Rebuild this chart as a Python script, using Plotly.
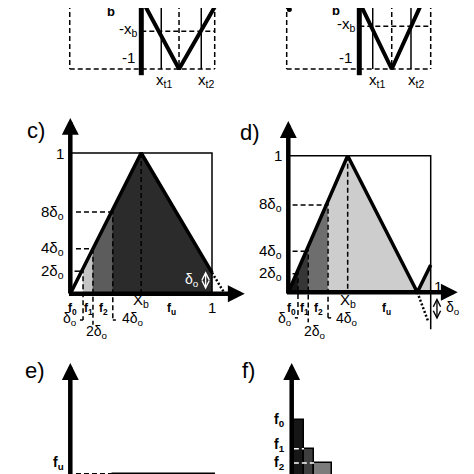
"""
Schematic of the triangle map and its stored-energy bands, panels a) to f)
"""

import plotly.graph_objects as go

W = H = 474

# ---- a) and b): V shaped maps, only the lower part is visible
a_v_x = [0.06, 0.514, 1.0]
a_v_y = [0.0, -1.0, 0.0]
a_xt = [0.272, 0.817]
a_xmid = 0.514
a_xb = -0.392
a_left = -0.975

b_v_x = [0.034, 0.454, 0.85]
b_v_y = [0.0, -1.0, 0.0]
b_xt = [0.188, 0.724]
b_xmid = 0.454
b_xb = -0.31
b_left = -1.017

# ---- c): triangle with x_b = 0.5, overshooting 1 by delta_o
c_tri_x = [0, 0.5, 1.0]
c_tri_y = [0, 1, 0.15]
c_tail_x = [1.0, 1.09]
c_tail_y = [0.15, 0]
c_band_x = [0.09, 0.16, 0.30]        # delta_o, 2 delta_o, 4 delta_o
c_band_h = [0.18, 0.32, 0.60]
c_colors = ['#c4c4c4', '#5c5c5c', '#2b2b2b']
c_tick_y = [1, 0.58, 0.32, 0.16]
c_tick_lab = ['1', '8δ<sub>o</sub>', '4δ<sub>o</sub>', '2δ<sub>o</sub>']

# ---- d): triangle with x_b < 0.5, folded back at 1
d_tri_x = [0, 0.417, 0.906, 1.0]
d_tri_y = [0, 1, 0, 0.20]
d_tail_x = [0.906, 0.981]
d_tail_y = [0, -0.21]
d_band_x = [0.068, 0.14, 0.279]
d_band_h = [0.163, 0.336, 0.67]
d_colors = ['#141414', '#363636', '#6e6e6e', '#cdcdcd']
d_tick_y = [1, 0.64, 0.30, 0.136]
d_tick_lab = ['1', '8δ<sub>o</sub>', '4δ<sub>o</sub>', '2δ<sub>o</sub>']

f_under = ['f<sub>0</sub>', 'f<sub>1</sub>', 'f<sub>2</sub>', 'f<sub>u</sub>']

# ---- e) and f): resulting probabilities
e_edges = [0.30, 1.02]
e_heights = [0.159]
e_colors = ['#2a2a2a']

f_edges = [0, 0.087, 0.158, 0.287, 1.007]
f_heights = [0.545, 0.338, 0.236, 0.129]
f_colors = ['#161616', '#3e3e3e', '#7c7c7c', '#c2c2c2']
f_lab_y = [0.545, 0.366, 0.236, 0.105]

FONT = 'Liberation Sans, Arial, sans-serif'
DASH = '5px,3px'

fig = go.Figure()
layout = {}


def add_axes(n, x0, sx, y0, sy, box):
    """pixel origin / scale of one panel, box = (left, top, right, bottom) in px"""
    l, t, r, b = box
    s = '' if n == 1 else str(n)
    layout['xaxis' + s] = dict(domain=[l / W, r / W], range=[(l - x0) / sx, (r - x0) / sx],
                               visible=False, anchor='y' + s)
    layout['yaxis' + s] = dict(domain=[1 - b / H, 1 - t / H], range=[(y0 - b) / sy, (y0 - t) / sy],
                               visible=False, anchor='x' + s)


def ref(n):
    s = '' if n == 1 else str(n)
    return 'x' + s, 'y' + s


def seg(n, xs, ys, width=1.5, color='black', dash=None):
    xr, yr = ref(n)
    fig.add_trace(go.Scatter(x=xs, y=ys, mode='lines', xaxis=xr, yaxis=yr,
                             line=dict(width=width, color=color, dash=dash),
                             hoverinfo='skip'))


def poly(n, xs, ys, color):
    xr, yr = ref(n)
    fig.add_trace(go.Scatter(x=xs, y=ys, mode='lines', fill='toself', fillcolor=color,
                             xaxis=xr, yaxis=yr, line=dict(width=0.6, color=color),
                             hoverinfo='skip'))


def arrow(n, x0, y0, x1, y1, width=4.5, color='black', head=2, size=0.75, both=False):
    xr, yr = ref(n)
    fig.add_annotation(x=x1, y=y1, ax=x0, ay=y0, xref=xr, yref=yr, axref=xr, ayref=yr,
                       text='', showarrow=True, arrowhead=head, arrowsize=size,
                       arrowwidth=width, arrowcolor=color, standoff=0, startstandoff=0,
                       arrowside='end+start' if both else 'end',
                       startarrowhead=head, startarrowsize=size)


def text(n, x, y, s, size=13, color='black', xanchor='center', bold=False):
    xr, yr = ref(n)
    fig.add_annotation(x=x, y=y, xref=xr, yref=yr, text='<b>%s</b>' % s if bold else s,
                       showarrow=False, xanchor=xanchor, yanchor='middle',
                       font=dict(size=size, color=color, family=FONT))


# panel placement
add_axes(1, 133.3, 73.4, -1, 62, (0, 0, 237, 95))
add_axes(2, 351.3, 71.4, -1, 62, (237, 0, 474, 95))
add_axes(3, 62.3, 141.7, 285.7, 140.7, (0, 95, 237, 340))
add_axes(4, 280.3, 142.4, 284.3, 136.6, (237, 95, 474, 340))
add_axes(5, 62.3, 141.7, 488, 140, (0, 340, 237, 474))
add_axes(6, 283.7, 141.7, 488, 140, (237, 340, 474, 474))

# ---------------- a) and b)
for n, vx, vy, xt, xmid, xb, left in [(1, a_v_x, a_v_y, a_xt, a_xmid, a_xb, a_left),
                                       (2, b_v_x, b_v_y, b_xt, b_xmid, b_xb, b_left)]:
    seg(n, [left, 1.0], [-1, -1], dash=DASH)
    seg(n, [left, left], [0.05, -1], dash=DASH)
    seg(n, [1.0, 1.0], [0.05, -1], dash=DASH)
    seg(n, [0, 1.0], [xb, xb], dash=DASH)
    seg(n, [xmid, xmid], [0.05, -1], dash=DASH)
    for x in xt:
        seg(n, [x, x], [0.05, -1])
    seg(n, vx, vy, width=4)
    seg(n, [0, 0], [0.05, -1.1], width=5)

text(1, -0.02, -0.36, '-x<sub>b</sub>', 15, xanchor='right')
text(1, -0.06, -0.82, '-1', 15, xanchor='right')
text(1, 0.309, -1.18, 'x<sub>t1</sub>', 15)
text(1, 0.881, -1.18, 'x<sub>t2</sub>', 15)
text(1, -1.135, 0.0, '-1', 15)
text(1, -0.415, -0.07, 'b', 13, bold=True)

text(2, -0.022, -0.29, '-x<sub>b</sub>', 15, xanchor='right')
text(2, -0.074, -0.82, '-1', 15, xanchor='right')
text(2, 0.244, -1.18, 'x<sub>t1</sub>', 15)
text(2, 0.794, -1.18, 'x<sub>t2</sub>', 15)
text(2, -0.333, -0.05, 'b', 13, bold=True)
fig.add_trace(go.Scatter(x=[-0.98], y=[-0.04], mode='markers', xaxis='x2', yaxis='y2',
                         marker=dict(size=5, color='black'), hoverinfo='skip'))

# ---------------- c)
b0, b1, b2 = c_band_x
h0, h1, h2 = c_band_h
poly(3, [b0, b0, b1, b1], [0, h0, h1, 0], c_colors[0])
poly(3, [b1, b1, b2, b2], [0, h1, h2, 0], c_colors[1])
poly(3, [b2, b2, c_tri_x[1], c_tri_x[2], c_tri_x[2]], [0, h2, c_tri_y[1], c_tri_y[2], 0], c_colors[2])
seg(3, [0, 1, 1], [1, 1, 0])
seg(3, [0.04, b2], [c_tick_y[1], c_tick_y[1]], dash=DASH)
seg(3, [0.04, b1], [c_tick_y[2], c_tick_y[2]], dash=DASH)
seg(3, [0.03, 0.075], [c_tick_y[3], c_tick_y[3]])
seg(3, [b0, b0], [h0, -0.187], dash=DASH)
seg(3, [b0, b0 - 0.022], [-0.187, -0.187])
seg(3, [b1, b1], [h1, -0.22], dash=DASH)
seg(3, [b2, b2], [h2, -0.187], dash=DASH)
seg(3, [b2, b2 + 0.022], [-0.187, -0.187])
seg(3, [c_tri_x[1], c_tri_x[1]], [1, 0], dash=DASH)
seg(3, c_tri_x, c_tri_y, width=3.5)
seg(3, c_tail_x, c_tail_y, width=2.5, dash='2px,2px')
arrow(3, 0, -0.01, 0, 1.249)
arrow(3, -0.02, 0, 1.231, 0)
arrow(3, 0.955, 0.02, 0.955, 0.16, width=1.3, color='white', head=5, size=1.1, both=True)

text(3, -0.242, 1.157, 'c)', 22)
for y, s in zip(c_tick_y, c_tick_lab):
    text(3, -0.03, y, s, 15, xanchor='right')
for x, s in zip([0.019, 0.125, 0.231, 0.711], f_under):
    text(3, x, -0.11, s, 12, bold=True)
text(3, 0.5, -0.05, 'X<sub>b</sub>', 15)
text(3, 1.0, -0.10, '1', 15)
text(3, 0.0, -0.18, 'δ<sub>o</sub>', 14)
text(3, 0.19, -0.27, '2δ<sub>o</sub>', 14)
text(3, 0.44, -0.18, '4δ<sub>o</sub>', 14)
text(3, 0.86, 0.10, 'δ<sub>o</sub>', 14, color='white')

# ---------------- d)
b0, b1, b2 = d_band_x
h0, h1, h2 = d_band_h
poly(4, [0, b0, b0], [0, h0, 0], d_colors[0])
poly(4, [b0, b0, b1, b1], [0, h0, h1, 0], d_colors[1])
poly(4, [b1, b1, b2, b2], [0, h1, h2, 0], d_colors[2])
poly(4, [b2, b2] + d_tri_x[1:] + [d_tri_x[3]], [0, h2] + d_tri_y[1:] + [0], d_colors[3])
seg(4, [0, 1, 1], [1, 1, -0.27])
seg(4, [0.03, b2], [d_tick_y[1], d_tick_y[1]], dash=DASH)
seg(4, [0.03, b1], [d_tick_y[2], d_tick_y[2]], dash=DASH)
seg(4, [0.03, 0.07], [d_tick_y[3], d_tick_y[3]])
seg(4, [b0, b0], [h0, -0.187], dash=DASH)
seg(4, [b0, b0 - 0.022], [-0.187, -0.187])
seg(4, [b1, b1], [h1, -0.22], dash=DASH)
seg(4, [b2, b2], [h2, -0.187], dash=DASH)
seg(4, [b2, b2 + 0.022], [-0.187, -0.187])
seg(4, [d_tri_x[1], d_tri_x[1]], [1, 0], dash=DASH)
seg(4, d_tri_x, d_tri_y, width=3.5)
seg(4, d_tail_x, d_tail_y, width=2.5, dash='2px,2px')
arrow(4, 0, -0.02, 0, 1.254)
arrow(4, -0.02, 0, 1.19, 0)
arrow(4, 1.044, -0.03, 1.044, -0.20, width=1.3, head=5, size=1.1, both=True)

text(4, -0.269, 1.17, 'd)', 22)
for y, s in zip(d_tick_y, d_tick_lab):
    text(4, -0.03, y, s, 15, xanchor='right')
for x, s in zip([0.024, 0.117, 0.209, 0.691], f_under):
    text(4, x, -0.125, s, 12, bold=True)
text(4, 0.419, -0.06, 'X<sub>b</sub>', 15)
text(4, 1.048, 0.04, '1', 15)
text(4, -0.02, -0.195, 'δ<sub>o</sub>', 14)
text(4, 0.185, -0.29, '2δ<sub>o</sub>', 14)
text(4, 0.415, -0.195, '4δ<sub>o</sub>', 14)
text(4, 1.155, -0.115, 'δ<sub>o</sub>', 14)

# ---------------- e)
fig.add_trace(go.Bar(x=[(e_edges[0] + e_edges[1]) / 2], y=e_heights,
                     width=[e_edges[1] - e_edges[0]], xaxis='x5', yaxis='y5',
                     marker=dict(color=e_colors, line=dict(color='black', width=1.5)),
                     hoverinfo='skip'))
seg(5, [0.04, e_edges[0]], [e_heights[0], e_heights[0]], dash=DASH)
arrow(5, 0, 0, 0, 0.95)
text(5, -0.251, 0.893, 'e)', 22)
text(5, -0.03, 0.236, 'f<sub>u</sub>', 14, xanchor='right', bold=True)

# ---------------- f)
f_mid = [(f_edges[i] + f_edges[i + 1]) / 2 for i in range(len(f_heights))]
f_w = [f_edges[i + 1] - f_edges[i] for i in range(len(f_heights))]
fig.add_trace(go.Bar(x=f_mid, y=f_heights, width=f_w, xaxis='x6', yaxis='y6',
                     marker=dict(color=f_colors, line=dict(color='black', width=1.5)),
                     hoverinfo='skip'))
for i in range(1, len(f_heights)):
    seg(6, [0.015, f_edges[i]], [f_heights[i], f_heights[i]], width=1.6, color='white', dash=DASH)
arrow(6, 0, 0, 0, 0.95)
text(6, -0.308, 0.893, 'f)', 22)
for y, s in zip(f_lab_y, f_under):
    text(6, -0.033, y, s, 14, xanchor='right', bold=True)

fig.update_layout(
    width=W, height=H,
    margin=dict(l=0, r=0, t=0, b=0),
    paper_bgcolor='white', plot_bgcolor='rgba(0,0,0,0)',
    showlegend=False,
    font=dict(family=FONT, color='black'),
    bargap=0,
    **layout
)

fig.write_html("out.html")
